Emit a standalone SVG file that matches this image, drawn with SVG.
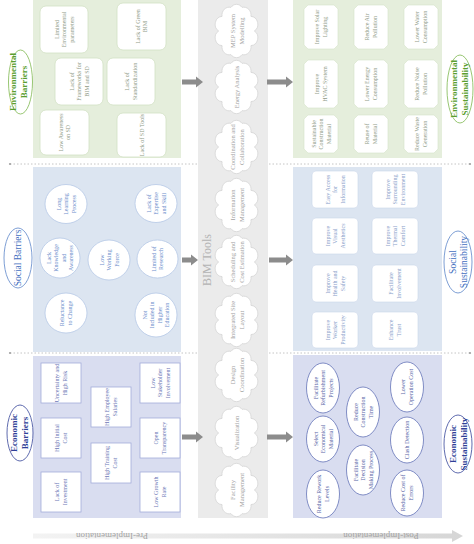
<svg xmlns="http://www.w3.org/2000/svg" width="474" height="544" viewBox="0 0 474 544">
<defs>
<style>
.t{font-family:"Liberation Serif","Times New Roman",serif;text-anchor:middle;font-size:6px}
.cg{fill:#8f9b87}
.cb{fill:#6d8ecb}
.cs{fill:#8aa1ca}
.ce{fill:#6c77b6}
.cx{fill:#5966a7}
.cc{fill:#a2a2a2;font-size:6.5px}
.lab{font-size:9px}
.bold{font-weight:bold}
.en{fill:#fff;stroke:#d2e1c4;stroke-width:.8}
.es{fill:#fff;stroke:#d5e2c9;stroke-width:.6}
.sb{fill:#fff;stroke:#b5c8e6;stroke-width:.8}
.ss{fill:#fff;stroke:#cbd7ea;stroke-width:.6}
.eb{fill:#fff;stroke:#a3acd9;stroke-width:.8}
.ex{fill:#fff;stroke:#6473b8;stroke-width:.8}
.cloud{fill:#fff;stroke:#d3d3d3;stroke-width:.7}
.arr{fill:#8c8c8c}
.sep{stroke:#b5b5b5;stroke-width:.8;stroke-dasharray:1.5 2;fill:none}
</style>
<path id="cloud" d="M17,0 A7,7 0 0 1 13.75,12.93 A7,7 0 0 1 5.25,20.92 A6.5,6.5 0 0 1 -5.25,20.92 A7,7 0 0 1 -13.75,12.93 A7,7 0 0 1 -17,0 A7,7 0 0 1 -13.75,-12.93 A7,7 0 0 1 -5.25,-20.92 A6.5,6.5 0 0 1 5.25,-20.92 A7,7 0 0 1 13.75,-12.93 A7,7 0 0 1 17,0 Z"/>
<linearGradient id="axisg" x1="0" y1="0" x2="1" y2="0">
<stop offset="0" stop-color="#f3f3f3"/>
<stop offset="1" stop-color="#d6d6d6"/>
</linearGradient>
</defs>

<g id="panels">
<rect x="33" y="0" width="148" height="158" fill="#e5eedc"/>
<rect x="33" y="167" width="148" height="185" fill="#dce5f1"/>
<rect x="33" y="356" width="148" height="162" fill="#d9ddf0"/>
<rect x="293" y="0" width="149" height="158" fill="#e5eedc"/>
<rect x="293" y="167" width="149" height="184" fill="#dce5f1"/>
<rect x="293" y="355" width="149" height="163" fill="#d9ddf0"/>
</g>

<g id="separators">
<line class="sep" x1="10" y1="164" x2="470" y2="164"/>
<line class="sep" x1="10" y1="353" x2="470" y2="353"/>
<circle cx="10" cy="164" r="1.1" fill="#a0a0a0"/>
<circle cx="470" cy="164" r="1.1" fill="#a0a0a0"/>
<circle cx="10" cy="353" r="1.1" fill="#a0a0a0"/>
<circle cx="470" cy="353" r="1.1" fill="#a0a0a0"/>
</g>

<g id="bim-tools">
<rect x="198" y="0" width="70" height="518" fill="#ebebeb"/>
<text class="t" style="font-size:12px;fill:#b3b3b3" transform="translate(207,260) rotate(-90)" y="4.2">BIM Tools</text>
</g>

<g id="connectors">
<path class="arr" d="M182,79.5 H196 V76.5 L203,82 L196,87.5 V84.5 H182 Z"/>
<path class="arr" d="M267,79.5 H286 V76.5 L293,82 L286,87.5 V84.5 H267 Z"/>
<path class="arr" d="M182,257.5 H191 V254.5 L198,260 L191,265.5 V262.5 H182 Z"/>
<path class="arr" d="M269,257.5 H286 V254.5 L293,260 L286,265.5 V262.5 H269 Z"/>
<path class="arr" d="M182,434.5 H196 V431.5 L203,437 L196,442.5 V439.5 H182 Z"/>
<path class="arr" d="M267,434.5 H286 V431.5 L293,437 L286,442.5 V439.5 H267 Z"/>
<path d="M33,533.5 H452 V530 L463,536 L452,542 V538.5 H33 Z" fill="url(#axisg)"/>
<text class="t" style="font-size:9px;fill:#a3a3a3" transform="translate(112,536) rotate(180)" y="3">Pre-Implementation</text>
<text class="t" style="font-size:9px;fill:#a3a3a3" transform="translate(381,536) rotate(180)" y="3">Post-Implementation</text>
</g>

<!-- Labels -->
<g id="label-env-barriers">
<ellipse cx="20.5" cy="82" rx="12" ry="32" fill="#fff" stroke="#8cc063" stroke-width="0.9"/>
<text class="t lab bold" fill="#5a9e2f" transform="translate(18,82) rotate(-90)"><tspan x="0" y="-2.3">Environmental</tspan><tspan x="0" y="8.7">Barriers</tspan></text>
</g>
<g id="label-social-barriers">
<ellipse cx="18" cy="258" rx="14" ry="30" fill="#fff" stroke="#6e93cf" stroke-width="0.9"/>
<text class="t lab" style="font-size:9.5px" fill="#4470c0" transform="translate(18,258) rotate(-90)" y="3.3">Social Barriers</text>
</g>
<g id="label-econ-barriers">
<ellipse cx="20" cy="433" rx="13" ry="28" fill="#fff" stroke="#4d5aa5" stroke-width="0.9"/>
<text class="t lab bold" fill="#2f3f97" transform="translate(19,433) rotate(-90)"><tspan x="0" y="-2.3">Economic</tspan><tspan x="0" y="8.7">Barriers</tspan></text>
</g>
<g id="label-env-sust">
<ellipse cx="460" cy="89" rx="13" ry="34" fill="#fff" stroke="#8cc063" stroke-width="0.9"/>
<text class="t lab bold" fill="#5a9e2f" transform="translate(459,89) rotate(-90)"><tspan x="0" y="-2.3">Environmental</tspan><tspan x="0" y="8.7">Sustainability</tspan></text>
</g>
<g id="label-social-sust">
<ellipse cx="458" cy="262" rx="14" ry="31" fill="#fff" stroke="#6e93cf" stroke-width="0.9"/>
<text class="t lab" style="font-size:9.5px" fill="#4470c0" transform="translate(458,262) rotate(-90)"><tspan x="0" y="-2.3">Social</tspan><tspan x="0" y="8.7">Sustainability</tspan></text>
</g>
<g id="label-econ-sust">
<ellipse cx="458" cy="444" rx="14" ry="29" fill="#fff" stroke="#4d5aa5" stroke-width="0.9"/>
<text class="t lab bold" fill="#2f3f97" transform="translate(458,444) rotate(-90)"><tspan x="0" y="-2.3">Economic</tspan><tspan x="0" y="8.7">Sustainability</tspan></text>
</g>

<!-- Environmental barriers -->
<g id="eb-limited-env">
<rect class="en" x="40" y="6" width="48" height="47" rx="6"/>
<text class="t cg" transform="translate(64,29.5) rotate(-90)"><tspan x="0" y="-5.4">Limited</tspan><tspan x="0" y="2.1">Environmental</tspan><tspan x="0" y="9.6">parameters</tspan></text>
</g>
<g id="eb-green-bim">
<rect class="en" x="117" y="3" width="49" height="47" rx="6"/>
<text class="t cg" transform="translate(141.5,26.5) rotate(-90)"><tspan x="0" y="-1.65">Lack of Green</tspan><tspan x="0" y="5.85">BIM</tspan></text>
</g>
<g id="eb-frameworks">
<rect class="en" x="55" y="58" width="48" height="47" rx="6"/>
<text class="t cg" transform="translate(79,81.5) rotate(-90)"><tspan x="0" y="-5.4">Lack of</tspan><tspan x="0" y="2.1">Frameworks for</tspan><tspan x="0" y="9.6">BIM and SD</tspan></text>
</g>
<g id="eb-standardization">
<rect class="en" x="107" y="58" width="48" height="47" rx="6"/>
<text class="t cg" transform="translate(131,81.5) rotate(-90)"><tspan x="0" y="-1.65">Lack of</tspan><tspan x="0" y="5.85">Standardization</tspan></text>
</g>
<g id="eb-awareness">
<rect class="en" x="40" y="110" width="49" height="45" rx="6"/>
<text class="t cg" transform="translate(64.5,132.5) rotate(-90)"><tspan x="0" y="-1.65">Low Awareness</tspan><tspan x="0" y="5.85">on SD</tspan></text>
</g>
<g id="eb-sd-tools">
<rect class="en" x="117" y="113" width="49" height="44" rx="6"/>
<text class="t cg" transform="translate(141.5,135) rotate(-90)" y="2.1">Lack of SD Tools</text>
</g>

<!-- Environmental sustainability -->
<g id="es-solar">
<path class="es" d="M308,5 h26 l4,4 v36 l-4,4 h-26 l-4,-4 v-36 z"/>
<text class="t cg" transform="translate(321,27) rotate(-90)"><tspan x="0" y="-1.65">Improve Solar</tspan><tspan x="0" y="5.85">Lighting</tspan></text>
</g>
<g id="es-air">
<path class="es" d="M358,5 h26 l4,4 v36 l-4,4 h-26 l-4,-4 v-36 z"/>
<text class="t cg" transform="translate(371,27) rotate(-90)"><tspan x="0" y="-1.65">Reduce Air</tspan><tspan x="0" y="5.85">Pollution</tspan></text>
</g>
<g id="es-water">
<path class="es" d="M408,5 h26 l4,4 v36 l-4,4 h-26 l-4,-4 v-36 z"/>
<text class="t cg" transform="translate(421,27) rotate(-90)"><tspan x="0" y="-1.65">Lower Water</tspan><tspan x="0" y="5.85">Consumption</tspan></text>
</g>
<g id="es-hvac">
<path class="es" d="M308,60 h26 l4,4 v40 l-4,4 h-26 l-4,-4 v-40 z"/>
<text class="t cg" transform="translate(321,84) rotate(-90)"><tspan x="0" y="-1.65">Improve</tspan><tspan x="0" y="5.85">HVAC System</tspan></text>
</g>
<g id="es-energy">
<path class="es" d="M358,60 h26 l4,4 v40 l-4,4 h-26 l-4,-4 v-40 z"/>
<text class="t cg" transform="translate(371,84) rotate(-90)"><tspan x="0" y="-1.65">Lower Energy</tspan><tspan x="0" y="5.85">Consumption</tspan></text>
</g>
<g id="es-noise">
<path class="es" d="M408,60 h26 l4,4 v40 l-4,4 h-26 l-4,-4 v-40 z"/>
<text class="t cg" transform="translate(421,84) rotate(-90)"><tspan x="0" y="-1.65">Reduce Noise</tspan><tspan x="0" y="5.85">Pollution</tspan></text>
</g>
<g id="es-material">
<path class="es" d="M308,115 h26 l4,4 v30 l-4,4 h-26 l-4,-4 v-30 z"/>
<text class="t cg" transform="translate(321,134) rotate(-90)"><tspan x="0" y="-5.4">Sustainable</tspan><tspan x="0" y="2.1">Construction</tspan><tspan x="0" y="9.6">Material</tspan></text>
</g>
<g id="es-reuse">
<path class="es" d="M358,115 h26 l4,4 v30 l-4,4 h-26 l-4,-4 v-30 z"/>
<text class="t cg" transform="translate(371,134) rotate(-90)"><tspan x="0" y="-1.65">Reuse of</tspan><tspan x="0" y="5.85">Material</tspan></text>
</g>
<g id="es-waste">
<path class="es" d="M408,115 h26 l4,4 v30 l-4,4 h-26 l-4,-4 v-30 z"/>
<text class="t cg" transform="translate(421,134) rotate(-90)"><tspan x="0" y="-1.65">Reduce Waste</tspan><tspan x="0" y="5.85">Generation</tspan></text>
</g>

<!-- Social barriers -->
<g id="sb-learning">
<ellipse class="sb" cx="66" cy="204" rx="21" ry="19.5"/>
<text class="t cb" transform="translate(66,204) rotate(-90)"><tspan x="0" y="-5.4">Long</tspan><tspan x="0" y="2.1">Learning</tspan><tspan x="0" y="9.6">Process</tspan></text>
</g>
<g id="sb-expertise">
<ellipse class="sb" cx="156" cy="203.5" rx="21" ry="19"/>
<text class="t cb" transform="translate(156,203.5) rotate(-90)"><tspan x="0" y="-5.4">Lack of</tspan><tspan x="0" y="2.1">Expertise</tspan><tspan x="0" y="9.6">and Skill</tspan></text>
</g>
<g id="sb-knowledge">
<ellipse class="sb" cx="60" cy="258" rx="20" ry="20"/>
<text class="t cb" transform="translate(60,258) rotate(-90)"><tspan x="0" y="-9.15">Lack</tspan><tspan x="0" y="-1.65">Knowledge</tspan><tspan x="0" y="5.85">and</tspan><tspan x="0" y="13.35">Awareness</tspan></text>
</g>
<g id="sb-working-force">
<ellipse class="sb" cx="109" cy="260" rx="21" ry="20"/>
<text class="t cb" transform="translate(109,260) rotate(-90)"><tspan x="0" y="-5.4">Low</tspan><tspan x="0" y="2.1">Working</tspan><tspan x="0" y="9.6">Force</tspan></text>
</g>
<g id="sb-research">
<ellipse class="sb" cx="157.5" cy="259" rx="20.5" ry="19"/>
<text class="t cb" transform="translate(157.5,259) rotate(-90)"><tspan x="0" y="-1.65">Limited of</tspan><tspan x="0" y="5.85">Research</tspan></text>
</g>
<g id="sb-reluctance">
<ellipse class="sb" cx="66" cy="313" rx="21" ry="20"/>
<text class="t cb" transform="translate(66,313) rotate(-90)"><tspan x="0" y="-1.65">Reluctance</tspan><tspan x="0" y="5.85">to Change</tspan></text>
</g>
<g id="sb-education">
<ellipse class="sb" cx="156" cy="315" rx="21" ry="22"/>
<text class="t cb" transform="translate(156,315) rotate(-90)"><tspan x="0" y="-9.15">Not</tspan><tspan x="0" y="-1.65">Included in</tspan><tspan x="0" y="5.85">Higher</tspan><tspan x="0" y="13.35">Education</tspan></text>
</g>

<!-- Social sustainability -->
<g id="ss-access">
<rect class="ss" x="312" y="171" width="46" height="37" rx="4"/>
<text class="t cs" transform="translate(335,189.5) rotate(-90)"><tspan x="0" y="-5.4">Easy Access</tspan><tspan x="0" y="2.1">for</tspan><tspan x="0" y="9.6">Information</tspan></text>
</g>
<g id="ss-surrounding">
<rect class="ss" x="372" y="171" width="46" height="37" rx="4"/>
<text class="t cs" transform="translate(395,189.5) rotate(-90)"><tspan x="0" y="-5.4">Improve</tspan><tspan x="0" y="2.1">Surrounding</tspan><tspan x="0" y="9.6">Environment</tspan></text>
</g>
<g id="ss-visual">
<rect class="ss" x="312" y="218" width="46" height="36" rx="4"/>
<text class="t cs" transform="translate(335,236) rotate(-90)"><tspan x="0" y="-5.4">Improve</tspan><tspan x="0" y="2.1">Visual</tspan><tspan x="0" y="9.6">Aesthetics</tspan></text>
</g>
<g id="ss-thermal">
<rect class="ss" x="372" y="218" width="46" height="36" rx="4"/>
<text class="t cs" transform="translate(395,236) rotate(-90)"><tspan x="0" y="-5.4">Improve</tspan><tspan x="0" y="2.1">Thermal</tspan><tspan x="0" y="9.6">Comfort</tspan></text>
</g>
<g id="ss-health">
<rect class="ss" x="312" y="265" width="46" height="37" rx="4"/>
<text class="t cs" transform="translate(335,283.5) rotate(-90)"><tspan x="0" y="-5.4">Improve</tspan><tspan x="0" y="2.1">Health and</tspan><tspan x="0" y="9.6">Safety</tspan></text>
</g>
<g id="ss-involvement">
<rect class="ss" x="372" y="265" width="46" height="37" rx="4"/>
<text class="t cs" transform="translate(395,283.5) rotate(-90)"><tspan x="0" y="-1.65">Facilitate</tspan><tspan x="0" y="5.85">Involvement</tspan></text>
</g>
<g id="ss-productivity">
<rect class="ss" x="312" y="312" width="46" height="36" rx="4"/>
<text class="t cs" transform="translate(335,330) rotate(-90)"><tspan x="0" y="-5.4">Improve</tspan><tspan x="0" y="2.1">Worker</tspan><tspan x="0" y="9.6">Productivity</tspan></text>
</g>
<g id="ss-trust">
<rect class="ss" x="372" y="312" width="46" height="36" rx="4"/>
<text class="t cs" transform="translate(395,330) rotate(-90)"><tspan x="0" y="-1.65">Enhance</tspan><tspan x="0" y="5.85">Trust</tspan></text>
</g>

<!-- Economic barriers -->
<g id="ebr-uncertainty">
<rect class="eb" x="41" y="363" width="40" height="40"/>
<text class="t ce" transform="translate(61,383) rotate(-90)"><tspan x="0" y="-1.65">Uncertainty and</tspan><tspan x="0" y="5.85">High Risk</tspan></text>
</g>
<g id="ebr-stakeholder">
<rect class="eb" x="140" y="363" width="40" height="40"/>
<text class="t ce" transform="translate(160,383) rotate(-90)"><tspan x="0" y="-5.4">Low</tspan><tspan x="0" y="2.1">Stakeholder</tspan><tspan x="0" y="9.6">Involvement</tspan></text>
</g>
<g id="ebr-salaries">
<rect class="eb" x="91" y="387" width="40" height="40"/>
<text class="t ce" transform="translate(111,407) rotate(-90)"><tspan x="0" y="-1.65">High Employee</tspan><tspan x="0" y="5.85">Salaries</tspan></text>
</g>
<g id="ebr-initial-cost">
<rect class="eb" x="41" y="418" width="40" height="40"/>
<text class="t ce" transform="translate(61,438) rotate(-90)"><tspan x="0" y="-1.65">High Initial</tspan><tspan x="0" y="5.85">Cost</tspan></text>
</g>
<g id="ebr-transparency">
<rect class="eb" x="140" y="418" width="40" height="40"/>
<text class="t ce" transform="translate(160,438) rotate(-90)"><tspan x="0" y="-1.65">Open</tspan><tspan x="0" y="5.85">Transparency</tspan></text>
</g>
<g id="ebr-training">
<rect class="eb" x="91" y="443" width="40" height="40"/>
<text class="t ce" transform="translate(111,463) rotate(-90)"><tspan x="0" y="-1.65">High Training</tspan><tspan x="0" y="5.85">Cost</tspan></text>
</g>
<g id="ebr-investment">
<rect class="eb" x="41" y="472" width="40" height="40"/>
<text class="t ce" transform="translate(61,492) rotate(-90)"><tspan x="0" y="-1.65">Lack of</tspan><tspan x="0" y="5.85">Investment</tspan></text>
</g>
<g id="ebr-growth">
<rect class="eb" x="140" y="472" width="40" height="40"/>
<text class="t ce" transform="translate(160,492) rotate(-90)"><tspan x="0" y="-1.65">Low Growth</tspan><tspan x="0" y="5.85">Rate</tspan></text>
</g>

<!-- Economic sustainability -->
<g id="ex-refurbishment">
<ellipse class="ex" cx="323" cy="388" rx="16.5" ry="25"/>
<text class="t cx" transform="translate(323,388) rotate(-90)"><tspan x="0" y="-5.4">Facilitate</tspan><tspan x="0" y="2.1">Refurbishment</tspan><tspan x="0" y="9.6">Projects</tspan></text>
</g>
<g id="ex-operation">
<ellipse class="ex" cx="407" cy="387" rx="16.5" ry="25"/>
<text class="t cx" transform="translate(407,387) rotate(-90)"><tspan x="0" y="-1.65">Lower</tspan><tspan x="0" y="5.85">Operation Cost</tspan></text>
</g>
<g id="ex-construction-time">
<ellipse class="ex" cx="363" cy="412" rx="16.5" ry="25"/>
<text class="t cx" transform="translate(363,412) rotate(-90)"><tspan x="0" y="-5.4">Reduce</tspan><tspan x="0" y="2.1">Construction</tspan><tspan x="0" y="9.6">Time</tspan></text>
</g>
<g id="ex-material">
<ellipse class="ex" cx="323" cy="439" rx="16.5" ry="23"/>
<text class="t cx" transform="translate(323,439) rotate(-90)"><tspan x="0" y="-5.4">Select</tspan><tspan x="0" y="2.1">Economical</tspan><tspan x="0" y="9.6">Material</tspan></text>
</g>
<g id="ex-clash">
<ellipse class="ex" cx="407" cy="440" rx="16.5" ry="23"/>
<text class="t cx" transform="translate(407,440) rotate(-90)" y="2.1">Clash Detection</text>
</g>
<g id="ex-decision">
<ellipse class="ex" cx="363" cy="470" rx="16.5" ry="25"/>
<text class="t cx" transform="translate(363,470) rotate(-90)"><tspan x="0" y="-5.4">Facilitate</tspan><tspan x="0" y="2.1">Decision</tspan><tspan x="0" y="9.6">Making Process</tspan></text>
</g>
<g id="ex-rework">
<ellipse class="ex" cx="323" cy="494" rx="16.5" ry="24"/>
<text class="t cx" transform="translate(323,494) rotate(-90)"><tspan x="0" y="-1.65">Reduce Rework</tspan><tspan x="0" y="5.85">Levels</tspan></text>
</g>
<g id="ex-errors">
<ellipse class="ex" cx="407" cy="493" rx="16.5" ry="23"/>
<text class="t cx" transform="translate(407,493) rotate(-90)"><tspan x="0" y="-1.65">Reduce Cost of</tspan><tspan x="0" y="5.85">Errors</tspan></text>
</g>

<!-- BIM tool clouds -->
<g id="bim-mep">
<use href="#cloud" class="cloud" transform="translate(236.5,31) scale(1.05,1.13)"/>
<text class="t cc" transform="translate(237,31) rotate(-90)"><tspan x="0" y="-1.95">MEP System</tspan><tspan x="0" y="6.55">Modelling</tspan></text>
</g>
<g id="bim-energy">
<use href="#cloud" class="cloud" transform="translate(236.5,87) scale(1.05,1.13)"/>
<text class="t cc" transform="translate(237,87) rotate(-90)" y="2.3">Energy Analysis</text>
</g>
<g id="bim-coordination">
<use href="#cloud" class="cloud" transform="translate(236.5,147) scale(1.05,1.13)"/>
<text class="t cc" transform="translate(237,147) rotate(-90)"><tspan x="0" y="-1.95">Coordination and</tspan><tspan x="0" y="6.55">Collaboration</tspan></text>
</g>
<g id="bim-information">
<use href="#cloud" class="cloud" transform="translate(236.5,205) scale(1.05,1.13)"/>
<text class="t cc" transform="translate(237,205) rotate(-90)"><tspan x="0" y="-1.95">Information</tspan><tspan x="0" y="6.55">Management</tspan></text>
</g>
<g id="bim-scheduling">
<use href="#cloud" class="cloud" transform="translate(236.5,262) scale(1.05,1.13)"/>
<text class="t cc" transform="translate(237,262) rotate(-90)"><tspan x="0" y="-1.95">Scheduling and</tspan><tspan x="0" y="6.55">Cost Estimation</tspan></text>
</g>
<g id="bim-site">
<use href="#cloud" class="cloud" transform="translate(236.5,320) scale(1.05,1.13)"/>
<text class="t cc" transform="translate(237,320) rotate(-90)"><tspan x="0" y="-1.95">Integrated Site</tspan><tspan x="0" y="6.55">Layout</tspan></text>
</g>
<g id="bim-design">
<use href="#cloud" class="cloud" transform="translate(236.5,375) scale(1.05,1.13)"/>
<text class="t cc" transform="translate(237,375) rotate(-90)"><tspan x="0" y="-1.95">Design</tspan><tspan x="0" y="6.55">Coordination</tspan></text>
</g>
<g id="bim-visualization">
<use href="#cloud" class="cloud" transform="translate(236.5,433) scale(1.05,1.13)"/>
<text class="t cc" transform="translate(237,433) rotate(-90)" y="2.3">Visualization</text>
</g>
<g id="bim-facility">
<use href="#cloud" class="cloud" transform="translate(236.5,490) scale(1.05,1.13)"/>
<text class="t cc" transform="translate(237,490) rotate(-90)"><tspan x="0" y="-1.95">Facility</tspan><tspan x="0" y="6.55">Management</tspan></text>
</g>
</svg>
